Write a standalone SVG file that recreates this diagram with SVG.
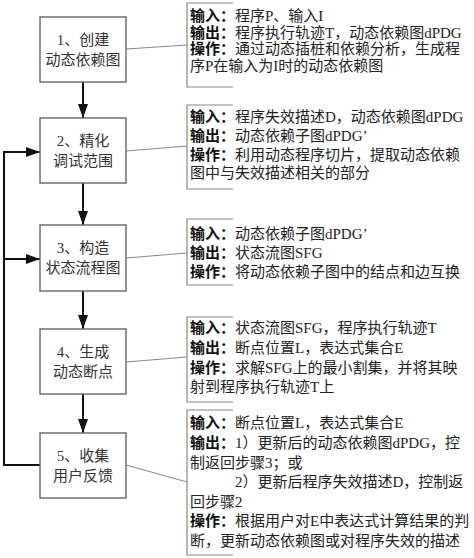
<svg xmlns="http://www.w3.org/2000/svg" width="474" height="558" viewBox="0 0 474 558">
<defs>
<style>
.box{fill:#fff;stroke:#666;stroke-width:1.4}
.bt{font-family:"Liberation Serif","Noto Sans CJK SC",serif;font-size:15px;fill:#333;text-anchor:middle}
.tt{font-family:"Liberation Serif","Noto Sans CJK SC",serif;font-size:15px;fill:#222}
.lb{font-weight:bold;fill:#111}
.br{fill:none;stroke:#888;stroke-width:1.2}
.cl{stroke:#888;stroke-width:1}
.ar{fill:none;stroke:#111;stroke-width:2}
</style>
<marker id="ah" viewBox="0 0 10 10" refX="10" refY="5" markerWidth="7" markerHeight="7" markerUnits="userSpaceOnUse" orient="auto">
<path d="M0,0 L10,5 L0,10 Z" fill="#111"/>
</marker>
<marker id="ah2" viewBox="0 0 14 10" refX="14" refY="5" markerWidth="14" markerHeight="10" markerUnits="userSpaceOnUse" orient="auto">
<path d="M0,0 L14,5 L0,10 Z" fill="#111"/>
</marker>
</defs>
<rect width="474" height="558" fill="#fff"/>

<g id="connectors">
<line class="ar" x1="83" y1="82" x2="83" y2="118" marker-end="url(#ah2)"/>
<line class="ar" x1="83" y1="183" x2="83" y2="225" marker-end="url(#ah2)"/>
<line class="ar" x1="83" y1="291" x2="83" y2="329" marker-end="url(#ah2)"/>
<line class="ar" x1="83" y1="394" x2="83" y2="433" marker-end="url(#ah2)"/>
<polyline class="ar" points="40,465 4,465 4,152 40,152" marker-end="url(#ah2)"/>
<line class="ar" x1="4" y1="259" x2="40" y2="259" marker-end="url(#ah2)"/>
<line class="cl" x1="126" y1="49" x2="187" y2="45"/>
<line class="cl" x1="126" y1="151" x2="187" y2="146"/>
<line class="cl" x1="126" y1="258" x2="187" y2="253"/>
<line class="cl" x1="126" y1="362" x2="187" y2="357"/>
<line class="cl" x1="126" y1="465" x2="187" y2="482"/>
</g>

<g id="n1">
<rect class="box" x="40" y="17" width="86" height="65"/>
<text class="bt" x="83" y="45">1、创建</text>
<text class="bt" x="83" y="65">动态依赖图</text>
</g>
<g id="n2">
<rect class="box" x="40" y="118" width="86" height="65"/>
<text class="bt" x="83" y="146">2、精化</text>
<text class="bt" x="83" y="166">调试范围</text>
</g>
<g id="n3">
<rect class="box" x="40" y="225" width="86" height="66"/>
<text class="bt" x="83" y="253">3、构造</text>
<text class="bt" x="83" y="273">状态流程图</text>
</g>
<g id="n4">
<rect class="box" x="40" y="329" width="86" height="65"/>
<text class="bt" x="83" y="357">4、生成</text>
<text class="bt" x="83" y="377">动态断点</text>
</g>
<g id="n5">
<rect class="box" x="40" y="433" width="86" height="65"/>
<text class="bt" x="83" y="461">5、收集</text>
<text class="bt" x="83" y="481">用户反馈</text>
</g>

<g id="d1">
<path class="br" d="M233,3 H187 V87 H233"/>
<text class="tt" x="190" y="21"><tspan class="lb">输入：</tspan>程序P、输入I</text>
<text class="tt" x="190" y="37.5"><tspan class="lb">输出：</tspan>程序执行轨迹T，动态依赖图dPDG</text>
<text class="tt" x="190" y="54"><tspan class="lb">操作：</tspan>通过动态插桩和依赖分析，生成程</text>
<text class="tt" x="190" y="70.5">序P在输入为I时的动态依赖图</text>
</g>
<g id="d2">
<path class="br" d="M233,105 H187 V189 H233"/>
<text class="tt" x="190" y="122"><tspan class="lb">输入：</tspan>程序失效描述D，动态依赖图dPDG</text>
<text class="tt" x="190" y="141"><tspan class="lb">输出：</tspan>动态依赖子图dPDG’</text>
<text class="tt" x="190" y="159.5"><tspan class="lb">操作：</tspan>利用动态程序切片，提取动态依赖</text>
<text class="tt" x="190" y="178">图中与失效描述相关的部分</text>
</g>
<g id="d3">
<path class="br" d="M233,219 H187 V285 H233"/>
<text class="tt" x="190" y="239"><tspan class="lb">输入：</tspan>动态依赖子图dPDG’</text>
<text class="tt" x="190" y="258"><tspan class="lb">输出：</tspan>状态流图SFG</text>
<text class="tt" x="190" y="277"><tspan class="lb">操作：</tspan>将动态依赖子图中的结点和边互换</text>
</g>
<g id="d4">
<path class="br" d="M233,317 H187 V402 H233"/>
<text class="tt" x="190" y="333"><tspan class="lb">输入：</tspan>状态流图SFG，程序执行轨迹T</text>
<text class="tt" x="190" y="353"><tspan class="lb">输出：</tspan>断点位置L，表达式集合E</text>
<text class="tt" x="190" y="372.5"><tspan class="lb">操作：</tspan>求解SFG上的最小割集，并将其映</text>
<text class="tt" x="190" y="392">射到程序执行轨迹T上</text>
</g>
<g id="d5">
<path class="br" d="M233,410 H187 V555 H233"/>
<text class="tt" x="190" y="428"><tspan class="lb">输入：</tspan>断点位置L，表达式集合E</text>
<text class="tt" x="190" y="448"><tspan class="lb">输出：</tspan>1）更新后的动态依赖图dPDG，控</text>
<text class="tt" x="190" y="468">制返回步骤3；或</text>
<text class="tt" x="235" y="487">2）更新后程序失效描述D，控制返</text>
<text class="tt" x="190" y="507">回步骤2</text>
<text class="tt" x="190" y="526"><tspan class="lb">操作：</tspan>根据用户对E中表达式计算结果的判</text>
<text class="tt" x="190" y="546">断，更新动态依赖图或对程序失效的描述</text>
</g>
</svg>
